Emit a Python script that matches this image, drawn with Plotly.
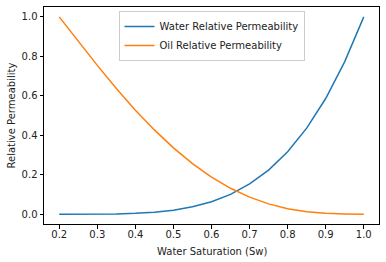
import plotly.graph_objects as go

sw = [0.20, 0.25, 0.30, 0.35, 0.40, 0.45, 0.50, 0.55, 0.60, 0.65, 0.70, 0.75, 0.80, 0.85, 0.90, 0.95, 1.00]
krw = [0.000, 0.000, 0.000, 0.001, 0.004, 0.010, 0.020, 0.037, 0.063, 0.100, 0.153, 0.223, 0.316, 0.436, 0.586, 0.773, 1.000]
kro = [1.000, 0.876, 0.754, 0.637, 0.527, 0.427, 0.336, 0.256, 0.188, 0.131, 0.086, 0.052, 0.027, 0.012, 0.004, 0.001, 0.000]

x_ticks = [0.2, 0.3, 0.4, 0.5, 0.6, 0.7, 0.8, 0.9, 1.0]
y_ticks = [0.0, 0.2, 0.4, 0.6, 0.8, 1.0]

font = "DejaVu Sans"
fig = go.Figure()
fig.add_trace(go.Scatter(x=sw, y=krw, mode="lines", name="Water Relative Permeability",
                         line=dict(color="#1f77b4", width=1.5)))
fig.add_trace(go.Scatter(x=sw, y=kro, mode="lines", name="Oil Relative Permeability",
                         line=dict(color="#ff7f0e", width=1.5)))

axis_common = dict(showgrid=False, zeroline=False, showline=True, linecolor="black", linewidth=1,
                   mirror=True, ticks="outside", ticklen=3.5, tickwidth=0.8, tickcolor="black",
                   automargin=False,
                   tickfont=dict(family=font, size=10, color="#222222"))
fig.update_layout(
    width=386, height=262,
    margin=dict(l=44, r=7, t=7, b=38),
    paper_bgcolor="white", plot_bgcolor="white",
    font=dict(family=font, size=10, color="#222222"),
    xaxis=dict(range=[0.16, 1.04], tickvals=x_ticks, ticktext=[f"{v:.1f}" for v in x_ticks],
               ticklabelstandoff=-3, **axis_common),
    yaxis=dict(range=[-0.05, 1.05], tickvals=y_ticks, ticktext=[f"{v:.1f}" for v in y_ticks],
               ticklabelstandoff=0, **axis_common),
    legend=dict(x=0.5, xanchor="center", y=0.982, yanchor="top", bgcolor="rgba(255,255,255,0.8)",
                bordercolor="#cccccc", borderwidth=1, font=dict(family=font, size=10),
                tracegroupgap=0, itemwidth=30),
    showlegend=True,
    annotations=[
        dict(text="Water Saturation (Sw)", xref="paper", yref="paper", x=0.5, y=0,
             xanchor="center", yanchor="middle", yshift=-27.7, showarrow=False,
             font=dict(family=font, size=10, color="#222222")),
        dict(text="Relative Permeability", xref="paper", yref="paper", x=0, y=0.5,
             xanchor="center", yanchor="middle", xshift=-33, textangle=-90, showarrow=False,
             font=dict(family=font, size=10, color="#222222")),
    ],
)
fig.write_html("out.html", config={"displayModeBar": False},
               post_script="document.body.style.margin='0';document.body.style.padding='0';")
